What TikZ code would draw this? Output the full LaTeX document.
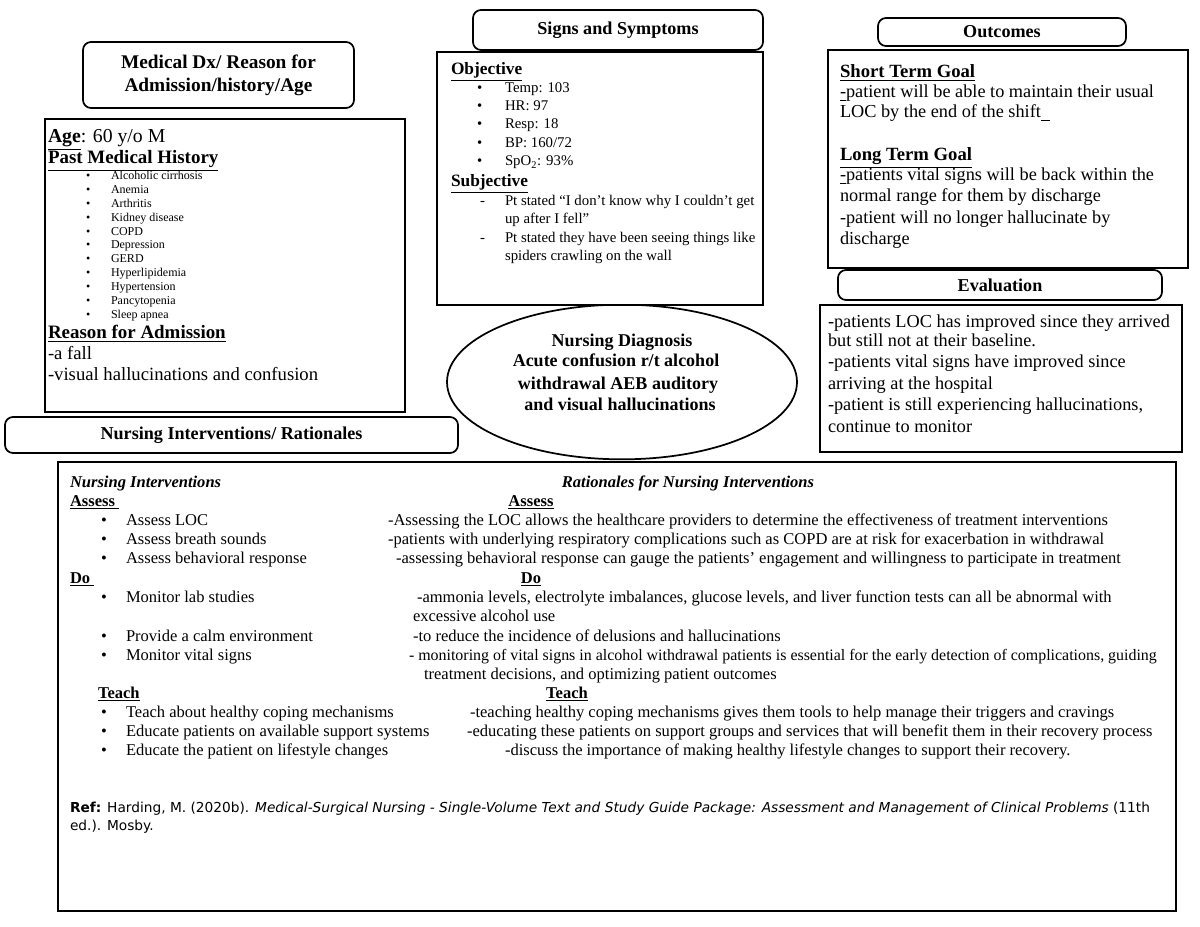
\documentclass[tikz,border=0pt]{standalone}
\usepackage{fontspec}
\setmainfont{Liberation Serif}
\newfontfamily\reffont{DejaVu Sans}
\usetikzlibrary{shapes.geometric,fit}
\newcommand{\myul}[1]{\underline{#1}}
\begin{document}
\begin{tikzpicture}[x=0.75pt,y=-0.75pt,
  hdr/.style={draw,line width=1.3pt,rounded corners=6pt,fill=white,inner sep=0pt},
  htx/.style={inner sep=0pt,align=center,font=\fontsize{13.6}{16.5}\selectfont\bfseries},
  bx/.style={draw,line width=1.3pt,fill=white,inner sep=0pt},
  tx/.style={anchor=base west,inner sep=0pt,outer sep=0pt},
  tc/.style={anchor=base,inner sep=0pt,outer sep=0pt},
  fL/.style={font=\fontsize{14.2}{16}\selectfont},
  fs/.style={font=\fontsize{9}{10}\selectfont},
  fm/.style={font=\fontsize{11.1}{13}\selectfont},
  fh/.style={font=\fontsize{13}{15}\selectfont},
  fo/.style={font=\fontsize{13.7}{15}\selectfont},
  fb/.style={font=\fontsize{12.4}{14}\selectfont},
  fr/.style={font=\reffont\fontsize{10.3}{12}\selectfont}]
\useasboundingbox[fill=white] (0,0) rectangle (1200,927);

% ellipse first (partly covered by boxes)
\node[draw,ellipse,line width=1.3pt,minimum width=262.5pt,minimum height=116pt,inner sep=0pt] (diag) at (622,382) {};

% ---------- left ----------
\node[hdr,fit={(83,42) (354,108)}] (hmed) {};
\node[htx,font=\fontsize{14.5}{17}\selectfont\bfseries] (hmedt) at (hmed.center) {Medical Dx/ Reason for\\Admission/history/Age};
\node[bx,fit={(45,119) (405,412)}] (leftbox) {};
\node[tx,font=\fontsize{14.8}{16}\selectfont] (age) at (48,143) {\textbf{\myul{Age}}: 60 y/o M};
\node[tx,fL] (pmh) at (48,164) {\textbf{\myul{Past Medical History}}};
\foreach \t [count=\i] in {Alcoholic cirrhosis,Anemia,Arthritis,Kidney disease,COPD,Depression,GERD,Hyperlipidemia,Hypertension,Pancytopenia,Sleep apnea}{
  \node[tx,fs] (pb\i) at (86,{176+(\i-1)*13.9+3.5}) {\textbullet};
  \node[tx,fs] (pt\i) at (111,{176+(\i-1)*13.9+3.5}) {\t};
}
\node[tx,fL] (rfa) at (48,339) {\textbf{\myul{Reason for Admission}}};
\node[tx,font=\fontsize{14}{16}\selectfont] (r1) at (48,360) {-a fall};
\node[tx,font=\fontsize{14}{16}\selectfont] (r2) at (48,381) {-visual hallucinations and confusion};

\node[hdr,fit={(5,417) (458,453)}] (hni) {};
\node[htx] (hnit) at (hni.center) {Nursing Interventions/ Rationales};

% ---------- signs ----------
\node[hdr,fit={(473,10) (763,50)}] (hsig) {};
\node[htx] (hsigt) at (hsig.center) {Signs and Symptoms};
\node[bx,fit={(437,52) (763,305)}] (sigbox) {};
\node[tx,fh] (obj) at (451,75) {\textbf{\myul{Objective}}};
\foreach \yy [count=\i] in {88,106,124,143,161}{
  \node[tx,fm] (ob\i) at (477,\yy+5) {\textbullet};
}
\node[tx,fm] (ot1) at (505,93) {Temp: 103};
\node[tx,fm] (ot2) at (505,111) {HR: 97};
\node[tx,fm] (ot3) at (505,129) {Resp: 18};
\node[tx,fm] (ot4) at (505,148) {BP: 160/72};
\node[tx,fm] (ot5) at (505,166) {SpO\textsubscript{2}: 93\%};
\node[tx,fh] (subj) at (451,187) {\textbf{\myul{Subjective}}};
\node[tx,fm] (sd1) at (480,206) {-};
\node[tx,fm] (s1) at (505,206) {Pt stated “I don’t know why I couldn’t get};
\node[tx,fm] (s2) at (505,224) {up after I fell”};
\node[tx,fm] (sd2) at (480,243) {-};
\node[tx,fm] (s3) at (505,243) {Pt stated they have been seeing things like};
\node[tx,fm] (s4) at (505,261) {spiders crawling on the wall};

% ---------- outcomes ----------
\node[hdr,fit={(878,18) (1126,46)}] (hout) {};
\node[htx] (houtt) at (hout.center) {Outcomes};
\node[bx,fit={(828,50) (1188,268)}] (outbox) {};
\node[tx,font=\fontsize{14}{15}\selectfont] (stg) at (840,78) {\textbf{\myul{Short Term Goal}}};
\node[tx,fo] (o1) at (840,98) {\myul{-}patient will be able to maintain their usual};
\node[tx,fo] (o2) at (840,118) {LOC by the end of the shift\myul{\ \ }};
\node[tx,font=\fontsize{14}{15}\selectfont] (ltg) at (840,161) {\textbf{\myul{Long Term Goal}}};
\node[tx,fo] (o3) at (840,181) {\myul{-}patients vital signs will be back within the};
\node[tx,fo] (o4) at (840,202) {normal range for them by discharge};
\node[tx,fo] (o5) at (840,224) {-patient will no longer hallucinate by};
\node[tx,fo] (o6) at (840,245) {discharge};

% ---------- evaluation ----------
\node[hdr,fit={(838,270) (1162,300)}] (heval) {};
\node[htx] (hevalt) at (heval.center) {Evaluation};
\node[bx,fit={(820,305) (1182,452)}] (evalbox) {};
\node[tx,fo] (e1) at (828,328) {-patients LOC has improved since they arrived};
\node[tx,fo] (e2) at (828,347) {but still not at their baseline.};
\node[tx,fo] (e3) at (828,368) {-patients vital signs have improved since};
\node[tx,fo] (e4) at (828,389) {arriving at the hospital};
\node[tx,fo] (e5) at (828,411) {-patient is still experiencing hallucinations,};
\node[tx,fo] (e6) at (828,432) {continue to monitor};

% ellipse text
\node[tc,font=\fontsize{13.5}{15}\selectfont] (d1) at (622,347) {\textbf{Nursing Diagnosis}};
\node[tc,font=\fontsize{13.5}{15}\selectfont] (d2) at (616,367) {\textbf{Acute confusion r/t alcohol}};
\node[tc,font=\fontsize{13.5}{15}\selectfont] (d3) at (618,390) {\textbf{withdrawal AEB auditory}};
\node[tc,font=\fontsize{13.5}{15}\selectfont] (d4) at (620,411) {\textbf{and visual hallucinations}};

% ---------- bottom ----------
\node[bx,fit={(58,462) (1176,911)}] (bigbox) {};
\node[tx,fb] (nih) at (70,487) {\textbf{\textit{Nursing Interventions}}};
\node[tc,fb] (rih) at (688,487) {\textbf{\textit{Rationales for Nursing Interventions}}};
\node[tx,fb] (asl) at (70,506) {\textbf{\myul{Assess\ }}};
\node[tc,fb] (asr) at (531,506) {\textbf{\myul{Assess}}};
\node[tx,fb] (dol) at (70,583) {\textbf{\myul{Do\ }}};
\node[tc,fb] (dor) at (531,583) {\textbf{\myul{Do}}};
\node[tx,fb] (tel) at (98,698) {\textbf{\myul{Teach}}};
\node[tc,fb] (ter) at (567,698) {\textbf{\myul{Teach}}};
\foreach \t/\yy [count=\i] in {Assess LOC/525,Assess breath sounds/544,Assess behavioral response/563,Monitor lab studies/602,Provide a calm environment/641,Monitor vital signs/660,Teach about healthy coping mechanisms/717,Educate patients on available support systems/736,Educate the patient on lifestyle changes/755}{
  \node[tx,fb] (bb\i) at (101,\yy) {\textbullet};
  \node[tx,fb] (bt\i) at (126,\yy) {\t};
}
\node[tx,fb] (ra1) at (388,525) {-Assessing the LOC allows the healthcare providers to determine the effectiveness of treatment interventions};
\node[tx,fb] (ra2) at (388,544) {-patients with underlying respiratory complications such as COPD are at risk for exacerbation in withdrawal};
\node[tx,fb] (ra3) at (396,563) {-assessing behavioral response can gauge the patients’ engagement and willingness to participate in treatment};
\node[tx,fb] (rd1) at (417,602) {-ammonia levels, electrolyte imbalances, glucose levels, and liver function tests can all be abnormal with};
\node[tx,fb] (rd1b) at (413,621) {excessive alcohol use};
\node[tx,fb] (rd2) at (413,641) {-to reduce the incidence of delusions and hallucinations};
\node[tx,font=\fontsize{11.95}{14}\selectfont] (rd3) at (409,660) {- monitoring of vital signs in alcohol withdrawal patients is essential for the early detection of complications, guiding};
\node[tx,fb] (rd3b) at (424,679) {treatment decisions, and optimizing patient outcomes};
\node[tx,fb] (rt1) at (470,717) {-teaching healthy coping mechanisms gives them tools to help manage their triggers and cravings};
\node[tx,fb] (rt2) at (467,736) {-educating these patients on support groups and services that will benefit them in their recovery process};
\node[tx,fb] (rt3) at (505,755) {-discuss the importance of making healthy lifestyle changes to support their recovery.};
\node[tx,fr] (ref1) at (70,812) {\textbf{Ref:} Harding, M. (2020b). \textit{Medical-Surgical Nursing - Single-Volume Text and Study Guide Package: Assessment and Management of Clinical Problems} (11th};
\node[tx,fr] (ref2) at (70,830) {ed.). Mosby.};
\end{tikzpicture}
\end{document}
